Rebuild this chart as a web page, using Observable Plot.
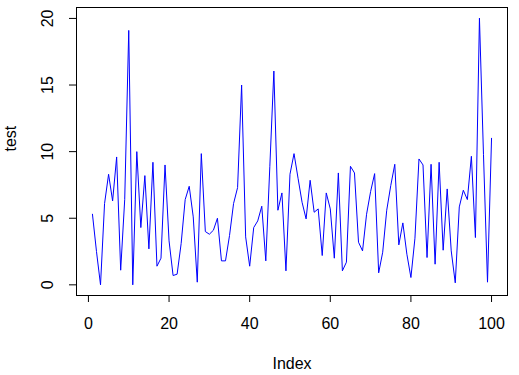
<!DOCTYPE html>
<html>
<head>
<meta charset="utf-8">
<script src="https://cdn.jsdelivr.net/npm/d3@7"></script>
<script src="https://cdn.jsdelivr.net/npm/@observablehq/plot@0.6"></script>
<style>
  html, body { margin: 0; padding: 0; background: white; }
</style>
</head>
<body>
<div id="chart"></div>
<script>
const testValues = [
  5.3, 2.5, 0.0, 6.1, 8.3, 6.3, 9.6, 1.1, 6.4, 19.1,
  0.0, 10.0, 4.3, 8.2, 2.7, 9.2, 1.4, 2.0, 9.0, 3.3,
  0.7, 0.8, 3.1, 6.4, 7.4, 5.1, 0.2, 9.85, 4.0, 3.8,
  4.1, 5.0, 1.8, 1.8, 3.7, 6.1, 7.3, 15.0, 3.6, 1.4,
  4.3, 4.8, 5.9, 1.8, 8.9, 16.05, 5.6, 6.9, 1.05, 8.3,
  9.85, 8.0, 6.2, 4.95, 7.85, 5.45, 5.7, 2.2, 6.9, 5.7,
  2.0, 8.4, 1.05, 1.7, 8.9, 8.4, 3.2, 2.55, 5.3, 7.0,
  8.35, 0.9, 2.45, 5.6, 7.45, 9.05, 3.0, 4.65, 2.3, 0.55,
  3.5, 9.45, 9.0, 2.05, 9.05, 1.55, 9.2, 2.6, 7.2, 2.55,
  0.15, 5.85, 7.1, 6.4, 9.65, 3.55, 20.02, 9.8, 0.2, 11.0
];
const indexValues = testValues.map((_, i) => i + 1);
const xTicks = [0, 20, 40, 60, 80, 100];
const yTicks = [0, 5, 10, 15, 20];
const xTitle = "Index";
const yTitle = "test";

const data = indexValues.map((x, i) => ({x, y: testValues[i]}));

const chart = Plot.plot({
  width: 519,
  height: 375,
  marginLeft: 76,
  marginRight: 12,
  marginTop: 7,
  marginBottom: 80,
  style: {fontFamily: "'Liberation Sans', Arial, sans-serif", fontSize: "16px", color: "black", background: "white"},
  x: {domain: [-2.96, 103.96]},
  y: {domain: [-0.8, 20.82]},
  marks: [
    Plot.frame({stroke: "black", strokeWidth: 1}),
    Plot.lineY(data, {x: "x", y: "y", stroke: "#0000ff", strokeWidth: 1}),
    Plot.axisX({ticks: xTicks, tickSize: 7, tickPadding: 15, fontSize: 16, label: null, strokeWidth: 1}),
    Plot.axisY({ticks: yTicks, tickSize: 7, label: null, tickFormat: () => ""}),
    Plot.text(yTicks, {y: d => d, text: d => String(d), frameAnchor: "left", dx: -29, rotate: -90, lineAnchor: "middle", textAnchor: "middle", fontSize: 16, fill: "black"}),
    Plot.text([xTitle], {text: d => d, frameAnchor: "bottom", dy: 68, lineAnchor: "middle", fontSize: 16, fill: "black"}),
    Plot.text([yTitle], {text: d => d, frameAnchor: "left", dx: -66, rotate: -90, lineAnchor: "middle", fontSize: 16, fill: "black"})
  ]
});
document.getElementById("chart").appendChild(chart);
</script>
</body>
</html>
